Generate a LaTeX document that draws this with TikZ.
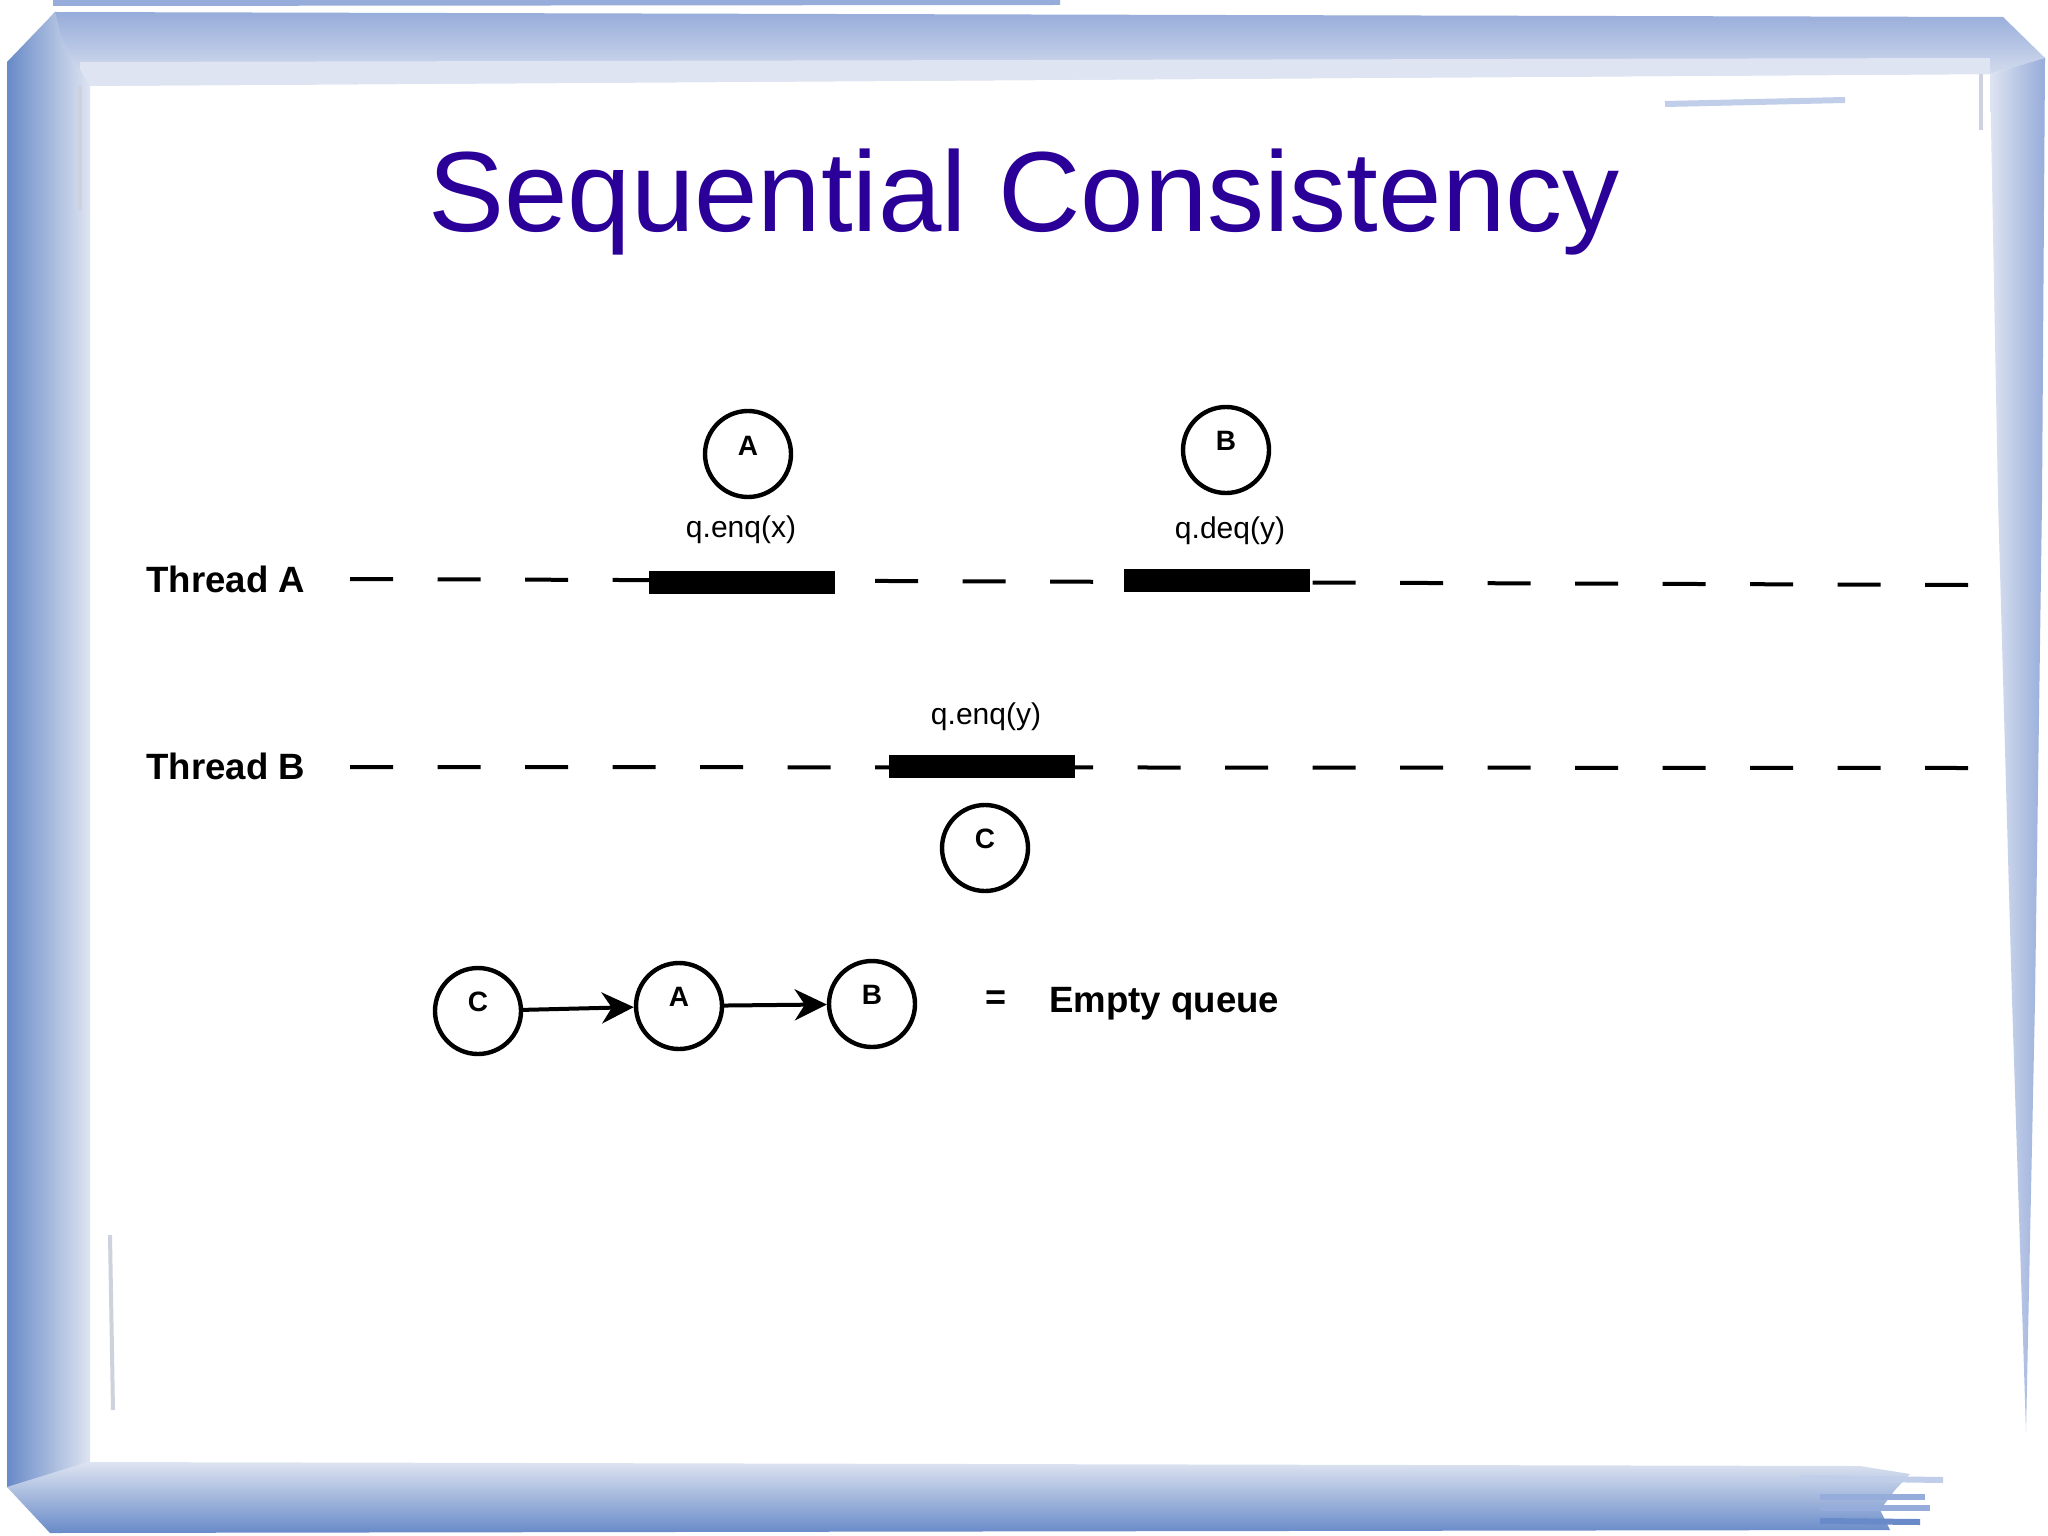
\documentclass[tikz,border=0pt]{standalone}
\usepackage{fontspec}
\setmainfont{Liberation Sans}
\usetikzlibrary{arrows.meta}
\definecolor{fdark}{RGB}{104,138,200}
\definecolor{fmid}{RGB}{150,172,218}
\definecolor{flight}{RGB}{192,206,234}
\definecolor{fpale}{RGB}{222,228,241}
\definecolor{fgray}{RGB}{205,210,222}
\definecolor{titleblue}{RGB}{43,0,153}
\tikzset{
  thread/.style={line width=2pt, dash pattern=on 21.5pt off 22.25pt},
  opbar/.style={rectangle, fill=black, inner sep=0pt, minimum width=93pt, minimum height=11.5pt},
  circ/.style={circle, draw=black, line width=2.2pt, minimum size=43pt, inner sep=0pt},
  clet/.style={font=\fontsize{14}{15}\selectfont\bfseries, inner sep=0pt},
  oplabel/.style={font=\fontsize{15}{16}\selectfont, inner sep=0pt, anchor=base},
  thlabel/.style={font=\fontsize{18.3}{20}\selectfont\bfseries, inner sep=0pt, anchor=base west},
  arr/.style={line width=2pt, -{Stealth[length=16pt,width=15.5pt,inset=5pt]}},
}
\begin{document}
\begin{tikzpicture}[x=0.5pt,y=-0.5pt]
\useasboundingbox (0,0) rectangle (2048,1535);
\fill[white] (0,0) rectangle (2048,1535);
% ---------- brushed frame ----------
\fill[fmid] (53,0) -- (1060,0) -- (1060,5) -- (53,6) -- cycle;
\shade[top color=fmid, bottom color=fpale] (55,12) -- (2003,17) -- (2045,58) -- (1990,74) -- (80,86) -- (30,40) -- cycle;
\fill[fpale] (80,62) -- (1990,58) -- (1990,74) -- (80,86) -- cycle;
\shade[left color=fdark, right color=fpale] (7,62) -- (55,12) -- (62,40) -- (90,86) -- (90,1462) -- (60,1490) -- (7,1487) -- cycle;
\shade[left color=fpale, right color=fmid] (1990,74) -- (2045,58) -- (2042,500) -- (2035,1000) -- (2026,1432) -- (2012,1000) -- (1998,500) -- cycle;
\shade[top color=fpale, bottom color=fdark] (7,1487) -- (88,1462) -- (1860,1466) -- (1910,1474) -- (1895,1490) -- (1880,1510) -- (1890,1530) -- (50,1533) -- cycle;
\draw[flight, line width=3pt] (1800,1478) -- (1943,1480);
\draw[fmid, line width=3pt] (1820,1497) -- (1925,1497);
\draw[fmid, line width=3pt] (1820,1508) -- (1930,1508);
\draw[fdark, line width=3pt] (1820,1521) -- (1920,1522);
\draw[fgray, line width=2pt] (80,86) -- (80,210);
\draw[fgray, line width=2pt] (110,1235) -- (113,1410);
\draw[fgray, line width=2pt] (1981,74) -- (1981,130);
\draw[flight, line width=3pt] (1665,104) -- (1845,100);
% ---------- title ----------
\node[font=\fontsize{57}{60}\selectfont, text=titleblue, inner sep=0pt, anchor=base] (title) at (1024,232) {Sequential Consistency};
% ---------- thread lines ----------
\coordinate (ta0) at (350,579);
\coordinate (ta1) at (1968,585);
\coordinate (tb0) at (350,767);
\coordinate (tb1) at (1968,768);
\draw[thread] (ta0) -- (ta1);
\draw[thread] (tb0) -- (tb1);
\node[thlabel] (thA) at (146,592) {Thread A};
\node[thlabel] (thB) at (146,779) {Thread B};
% operation bars
\node[opbar] (barA) at (742,582.5) {};
\node[opbar] (barB) at (1217,580.5) {};
\node[opbar] (barC) at (982,766) {};
% operation labels
\node[oplabel] (lA) at (741,537) {q.enq(x)};
\node[oplabel] (lB) at (1230,538) {q.deq(y)};
\node[oplabel] (lC) at (986,724) {q.enq(y)};
% circles on threads
\node[circ] (cA) at (748,454) {};
\node[clet] (tA) at ([yshift=4pt]cA.center) {A};
\node[circ] (cB) at (1226,450) {};
\node[clet] (tB) at ([yshift=4.5pt]cB.center) {B};
\node[circ] (cC) at (985,848) {};
\node[clet] (tC) at ([yshift=4.5pt]cC.center) {C};
% ---------- order ----------
\node[circ] (oC) at (478,1011) {};
\node[clet] (uC) at ([yshift=4.5pt]oC.center) {C};
\node[circ] (oA) at (679,1006) {};
\node[clet] (uA) at ([yshift=4.5pt]oA.center) {A};
\node[circ] (oB) at (872,1004) {};
\node[clet] (uB) at ([yshift=4.5pt]oB.center) {B};
\draw[arr] (oC) -- (oA);
\draw[arr] (oA) -- (oB);
\node[font=\fontsize{18}{20}\selectfont\bfseries, inner sep=0pt] (eq) at (996,1000) {=};
\node[thlabel] (empty) at (1049,1012) {Empty queue};
\end{tikzpicture}
\end{document}
